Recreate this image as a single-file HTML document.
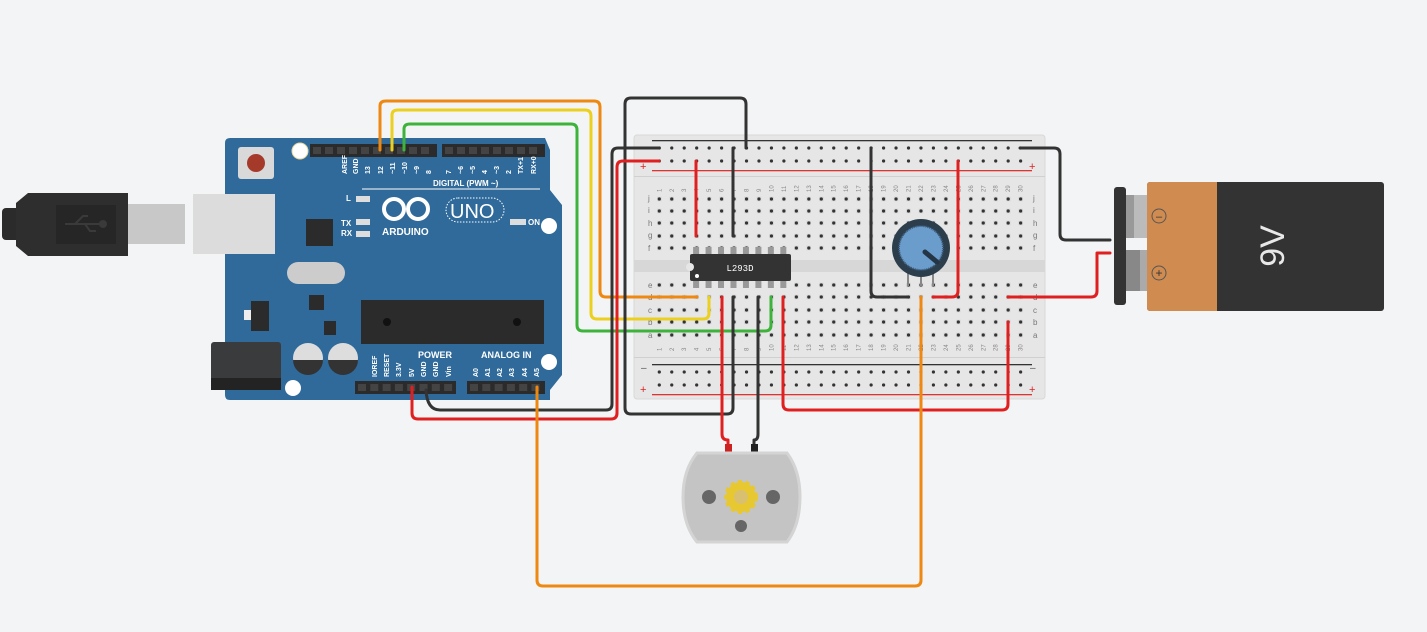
<!DOCTYPE html>
<html><head><meta charset="utf-8"><style>
html,body{margin:0;padding:0;background:#f3f4f6;}
svg{display:block;font-family:"Liberation Sans",sans-serif;}
</style></head><body>
<svg width="1427" height="632" viewBox="0 0 1427 632" xmlns="http://www.w3.org/2000/svg">
<rect width="1427" height="632" fill="#f3f4f6"/>

<!-- USB cable -->
<rect x="2" y="208" width="18" height="32" rx="4" fill="#2b2b2b"/>
<path d="M16,203 L28,193 H128 V256 H28 L16,246 Z" fill="#2e2e2e"/>
<rect x="56" y="205" width="60" height="39" fill="#262626"/>
<path d="M65,224 H103 M75,224 L83,216 H88 M85,224 L90,231 H96" stroke="#3a3a3a" stroke-width="2" fill="none"/>
<circle cx="103" cy="224" r="4" fill="#3a3a3a"/>
<rect x="128" y="204" width="57" height="40" fill="#c8c8c8"/>

<!-- Arduino board -->
<path d="M230,138 H545 L550,150 V190 L562,205 V375 L550,390 V400 H230 Q225,400 225,395 V143 Q225,138 230,138 Z" fill="#2f6a9a"/>
<rect x="193" y="194" width="82" height="60" fill="#dcdcdc"/>
<circle cx="300" cy="151" r="8" fill="#fff" stroke="#e9d9a0" stroke-width="1"/>
<circle cx="549" cy="226" r="8" fill="#fff"/>
<circle cx="549" cy="362" r="8" fill="#fff"/>
<circle cx="293" cy="388" r="8" fill="#fff"/>
<rect x="238" y="147" width="36" height="32" rx="3" fill="#d9d9d9"/>
<circle cx="256" cy="163" r="9" fill="#a53a2a"/>
<rect x="310" y="144" width="127" height="13" fill="#2b2b2b"/>
<rect x="442" y="144" width="103" height="13" fill="#2b2b2b"/>
<rect x="355" y="381" width="101" height="13" fill="#2b2b2b"/>
<rect x="467" y="381" width="78" height="13" fill="#2b2b2b"/>
<g fill="#444" id="pins"></g>
<g fill="#fff" font-size="8" font-weight="bold">
<text x="433" y="186">DIGITAL (PWM ~)</text>
<text x="481" y="358" font-size="9">ANALOG IN</text>
<text x="418" y="358" font-size="9">POWER</text>
<text x="341" y="226">TX</text><text x="341" y="236">RX</text><text x="346" y="201">L</text><text x="528" y="225">ON</text>
<text x="382" y="235" font-size="10">ARDUINO</text>
</g>
<g fill="#fff" font-size="7" font-weight="bold">
<text transform="translate(347,174) rotate(-90)">AREF</text><text transform="translate(358,174) rotate(-90)">GND</text>
<text transform="translate(370,174) rotate(-90)">13</text><text transform="translate(383,174) rotate(-90)">12</text>
<text transform="translate(395,174) rotate(-90)">~11</text><text transform="translate(407,174) rotate(-90)">~10</text>
<text transform="translate(419,174) rotate(-90)">~9</text><text transform="translate(431,174) rotate(-90)">8</text>
<text transform="translate(451,174) rotate(-90)">7</text><text transform="translate(463,174) rotate(-90)">~6</text>
<text transform="translate(475,174) rotate(-90)">~5</text><text transform="translate(487,174) rotate(-90)">4</text>
<text transform="translate(499,174) rotate(-90)">~3</text><text transform="translate(511,174) rotate(-90)">2</text>
<text transform="translate(523,174) rotate(-90)">TX+1</text><text transform="translate(536,174) rotate(-90)">RX+0</text>
<text transform="translate(377,377) rotate(-90)">IOREF</text><text transform="translate(389,377) rotate(-90)">RESET</text>
<text transform="translate(401,377) rotate(-90)">3.3V</text><text transform="translate(414,377) rotate(-90)">5V</text>
<text transform="translate(426,377) rotate(-90)">GND</text><text transform="translate(438,377) rotate(-90)">GND</text>
<text transform="translate(451,377) rotate(-90)">Vin</text>
<text transform="translate(478,377) rotate(-90)">A0</text><text transform="translate(490,377) rotate(-90)">A1</text>
<text transform="translate(502,377) rotate(-90)">A2</text><text transform="translate(514,377) rotate(-90)">A3</text>
<text transform="translate(527,377) rotate(-90)">A4</text><text transform="translate(539,377) rotate(-90)">A5</text>
</g>
<line x1="362" y1="189" x2="540" y2="189" stroke="#fff" stroke-width="1"/>
<g fill="none" stroke="#fff" stroke-width="4"><circle cx="394" cy="209" r="10"/><circle cx="418" cy="209" r="10"/></g>
<rect x="446" y="198" width="58" height="24" rx="12" fill="none" stroke="#fff" stroke-dasharray="1.5 1.5"/>
<text x="450" y="218" font-size="20" fill="#fff">UNO</text>
<g fill="#ddd"><rect x="356" y="196" width="14" height="6"/><rect x="356" y="219" width="14" height="6"/><rect x="356" y="231" width="14" height="6"/><rect x="510" y="219" width="16" height="6"/></g>
<rect x="306" y="219" width="27" height="27" fill="#2b2b2b"/>
<rect x="287" y="262" width="58" height="22" rx="11" fill="#ccc"/>
<rect x="309" y="295" width="15" height="15" fill="#2b2b2b"/>
<rect x="251" y="301" width="18" height="30" fill="#2b2b2b"/><rect x="244" y="310" width="7" height="10" fill="#eee"/>
<rect x="324" y="321" width="12" height="14" fill="#2b2b2b"/>
<rect x="361" y="300" width="183" height="44" fill="#2b2b2b"/>
<circle cx="387" cy="322" r="4" fill="#111"/><circle cx="517" cy="322" r="4" fill="#111"/>
<circle cx="308" cy="358" r="15" fill="#ddd"/><path d="M293,360 A15,15 0 0 0 323,360 Z" fill="#333"/>
<circle cx="343" cy="358" r="15" fill="#ddd"/><path d="M328,360 A15,15 0 0 0 358,360 Z" fill="#333"/>
<rect x="211" y="342" width="70" height="48" rx="3" fill="#3a3b3d"/>
<rect x="211" y="378" width="70" height="12" fill="#232323"/>

<!-- Breadboard -->
<rect x="634" y="135" width="411" height="264" rx="3" fill="#e6e6e6" stroke="#d8d8d8"/>
<rect x="634" y="260" width="411" height="12" fill="#d7d7d7"/>
<rect x="634" y="176" width="411" height="1" fill="#d0d0d0"/>
<rect x="634" y="357" width="411" height="1" fill="#d0d0d0"/>
<rect x="652" y="140" width="380" height="1.3" fill="#333"/>
<rect x="652" y="170" width="380" height="1.3" fill="#d33"/>
<rect x="652" y="364" width="380" height="1.3" fill="#333"/>
<rect x="652" y="394" width="380" height="1.3" fill="#d33"/>
<g id="holes" fill="#333"></g>
<g fill="#d22" font-size="11"><text x="640" y="170">+</text><text x="1029" y="170">+</text><text x="640" y="393">+</text><text x="1029" y="393">+</text></g>
<g fill="#555" font-size="10"><text x="641" y="371">–</text><text x="1030" y="371">–</text></g>
<g fill="#777" font-size="8">
<text x="648" y="251">f</text><text x="648" y="238">g</text><text x="648" y="226">h</text><text x="648" y="213">i</text><text x="648" y="201">j</text>
<text x="1033" y="251">f</text><text x="1033" y="238">g</text><text x="1033" y="226">h</text><text x="1033" y="213">i</text><text x="1033" y="201">j</text>
<text x="648" y="288">e</text><text x="648" y="300">d</text><text x="648" y="313">c</text><text x="648" y="325">b</text><text x="648" y="338">a</text>
<text x="1033" y="288">e</text><text x="1033" y="300">d</text><text x="1033" y="313">c</text><text x="1033" y="325">b</text><text x="1033" y="338">a</text>
</g>
<g fill="#888" font-size="6" id="nums"></g>

<!-- chip -->
<g fill="#999" id="chippins"></g>
<rect x="690" y="254" width="101" height="27" rx="2" fill="#333"/>
<circle cx="690" cy="267" r="4" fill="#e6e6e6"/><circle cx="697" cy="276" r="2" fill="#fff"/>
<text x="740" y="271" font-size="9" fill="#fff" text-anchor="middle" font-family="Liberation Mono,monospace">L293D</text>

<!-- pot -->
<g stroke="#888" stroke-width="2"><line x1="908" y1="270" x2="908" y2="286"/><line x1="921" y1="270" x2="921" y2="286"/><line x1="933" y1="270" x2="933" y2="286"/></g>
<circle cx="921" cy="248" r="29" fill="#2c3e4c"/>
<circle cx="921" cy="248" r="22" fill="#6a9ccc" stroke="#3b5a78" stroke-width="2" stroke-dasharray="1 1"/>
<line x1="925" y1="252" x2="937" y2="262" stroke="#243645" stroke-width="5" stroke-linecap="round"/>

<!-- wires -->
<g fill="none" stroke-width="3" stroke-linecap="round" stroke-linejoin="round">
<path d="M380,150 V106 Q380,101 386,101 H594 Q600,101 600,107 V291 Q600,297 606,297 H697" stroke="#ee8811"/>
<path d="M392,150 V115 Q392,110 398,110 H585 Q591,110 591,116 V313 Q591,319 597,319 H703 Q709,319 709,313 V297" stroke="#ecd020"/>
<path d="M404,150 V129 Q404,124 410,124 H571 Q577,124 577,130 V325 Q577,331 583,331 H765 Q771,331 771,325 V297" stroke="#3db33b"/>
<path d="M746,148 V104 Q746,98 740,98 H631 Q625,98 625,104 V408 Q625,414 631,414 H727 Q733,414 733,408 V297" stroke="#333"/>
<path d="M659,148 H618 Q612,148 612,154 V404 Q612,410 606,410 H440 Q427,410 426,390" stroke="#333"/>
<path d="M659,161 H623 Q617,161 617,167 V413 Q617,419 611,419 H418 Q412,419 412,413 V387" stroke="#e02020"/>
<path d="M696,161 V236" stroke="#e02020"/>
<path d="M733,148 V236" stroke="#333"/>
<path d="M722,297 V434 Q722,440 728,440 V446" stroke="#e02020"/>
<path d="M758,297 V434 Q758,440 754,440 V446" stroke="#333"/>
<path d="M783,297 V404 Q783,410 789,410 H1002 Q1008,410 1008,404 V322" stroke="#e02020"/>
<path d="M871,148 V291 Q871,297 877,297 H908" stroke="#333"/>
<path d="M958,161 V291 Q958,297 952,297 H933" stroke="#e02020"/>
<path d="M921,297 V580 Q921,586 915,586 H543 Q537,586 537,580 V387" stroke="#ee8811"/>
<path d="M1008,297 H1091 Q1097,297 1097,291 V253 H1110" stroke="#e02020"/>
<path d="M1020,148 H1054 Q1060,148 1060,154 V234 Q1060,240 1066,240 H1110" stroke="#333"/>
</g>

<!-- motor -->
<rect x="725" y="444" width="7" height="9" fill="#c22"/><rect x="751" y="444" width="7" height="9" fill="#222"/>
<path d="M697,453 H787 Q800,470 800,497 Q800,525 787,542 H697 Q683,525 683,497 Q683,470 697,453 Z" fill="#c4c4c4" stroke="#d4d4d4" stroke-width="3"/>
<circle cx="709" cy="497" r="7" fill="#666"/><circle cx="773" cy="497" r="7" fill="#666"/><circle cx="741" cy="526" r="6" fill="#666"/>
<circle cx="741" cy="497" r="15" fill="#e8c830" stroke="#e8c830" stroke-width="4" stroke-dasharray="4 3.5"/>
<circle cx="741" cy="497" r="7" fill="#d8c070"/>

<!-- battery -->
<rect x="1126" y="195" width="22" height="43" fill="#bbb"/><rect x="1126" y="195" width="8" height="43" fill="#999"/>
<rect x="1126" y="250" width="22" height="41" fill="#aaa"/><rect x="1126" y="250" width="14" height="41" fill="#888"/>
<rect x="1114" y="187" width="12" height="118" rx="3" fill="#333"/>
<rect x="1147" y="182" width="237" height="129" rx="3" fill="#333"/>
<rect x="1147" y="182" width="70" height="129" rx="3" fill="#d08c50"/>
<rect x="1210" y="182" width="7" height="129" fill="#d08c50"/>
<circle cx="1159" cy="216" r="7" fill="none" stroke="#555"/><text x="1159" y="220" font-size="11" text-anchor="middle" fill="#333">–</text>
<circle cx="1159" cy="273" r="7" fill="none" stroke="#555"/><text x="1159" y="277" font-size="12" text-anchor="middle" fill="#333">+</text>
<text transform="translate(1284,246) rotate(-90)" font-size="34" fill="#e8e8e8" text-anchor="middle">9V</text>
</svg>
<script>
var NS='http://www.w3.org/2000/svg';
function add(id,tag,attrs,txt){var e=document.createElementNS(NS,tag);for(var k in attrs)e.setAttribute(k,attrs[k]);if(txt)e.textContent=txt;document.getElementById(id).appendChild(e);}
var rows=[148,161,199,211,223,236,248,285,297,310,322,335,372,385];
for(var i=0;i<30;i++){var x=659.3+i*12.46;
 for(var r=0;r<rows.length;r++){var y=rows[r];
  if(r>=2&&r<12)add('holes','rect',{x:x-2.2,y:y-2.2,width:4.4,height:4.4,fill:'#d2d2d2'});
  add('holes','circle',{cx:x,cy:y,r:1.6});}
 add('nums','text',{transform:'translate('+(x+2)+',192) rotate(-90)'},String(i+1));
 add('nums','text',{transform:'translate('+(x+2)+',351) rotate(-90)'},String(i+1));}
for(var j=0;j<8;j++){var cx=696.1+j*12.46;
 add('chippins','rect',{x:cx-3,y:247,width:6,height:8});
 add('chippins','rect',{x:cx-3,y:280,width:6,height:8});}
var px=[313,325,337,349,361,373,385,397,409,421,445,457,469,481,493,505,517,529];
px.forEach(function(x){add('pins','rect',{x:x,y:147,width:8,height:7});});
for(var k=0;k<8;k++)add('pins','rect',{x:358+k*12.3,y:384,width:8,height:7});
for(var k=0;k<6;k++)add('pins','rect',{x:470+k*12.3,y:384,width:8,height:7});
</script>
</body></html>
